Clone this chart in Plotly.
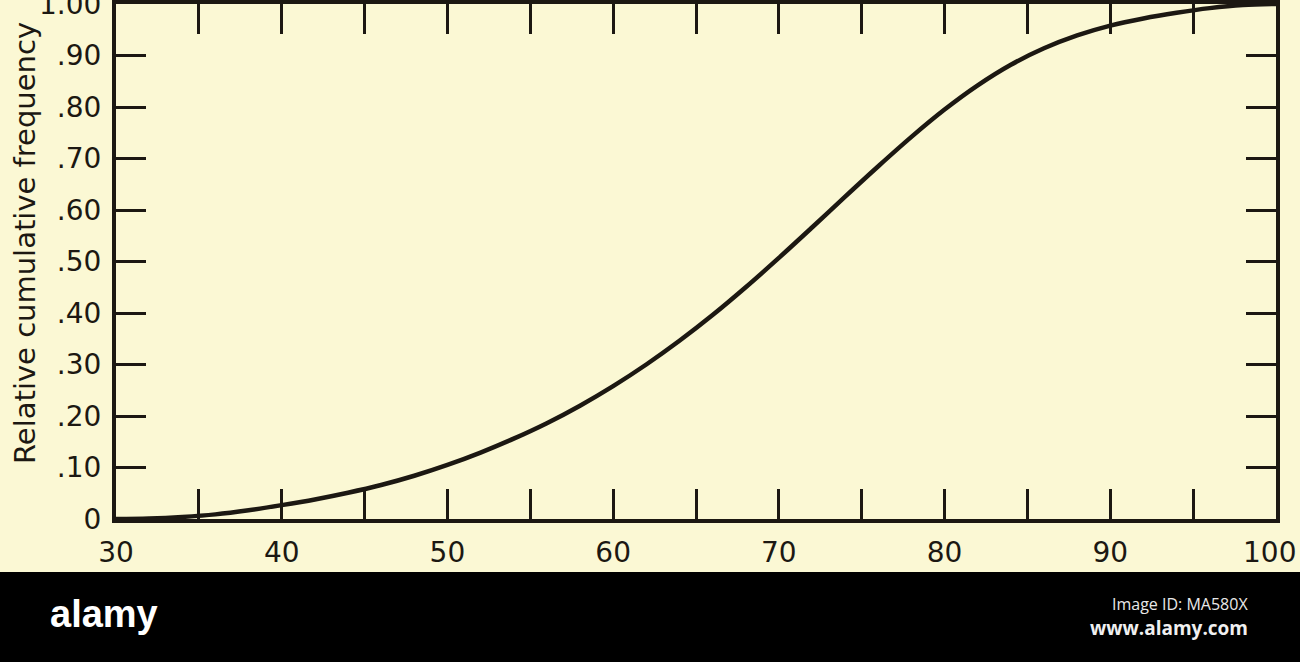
import plotly.graph_objects as go

# Data (relative cumulative frequency curve)
score = [30, 32, 34, 36, 38, 40, 42, 44, 46, 48, 50, 52, 54, 56, 58, 60, 62, 64,
         66, 68, 70, 72, 74, 76, 78, 80, 82, 84, 86, 88, 90, 92, 94, 96, 98, 100]
cum_freq = [0.0, 0.001, 0.004, 0.009, 0.017, 0.027, 0.038, 0.051, 0.066, 0.084,
            0.105, 0.129, 0.156, 0.186, 0.220, 0.258, 0.300, 0.346, 0.396, 0.450,
            0.507, 0.566, 0.626, 0.685, 0.742, 0.795, 0.842, 0.882, 0.914, 0.939,
            0.958, 0.972, 0.983, 0.992, 0.998, 1.0]

x_tickvals = [30, 35, 40, 45, 50, 55, 60, 65, 70, 75, 80, 85, 90, 95, 100]
x_ticktext = ["30", "", "40", "", "50", "", "60", "", "70", "", "80", "", "90", "", "100"]
y_tickvals = [0, 0.1, 0.2, 0.3, 0.4, 0.5, 0.6, 0.7, 0.8, 0.9, 1.0]
y_ticktext = ["0", ".10", ".20", ".30", ".40", ".50", ".60", ".70", ".80", ".90", "1.00"]

y_title = "Relative cumulative frequency"

INK = "#1c1812"
CREAM = "#fbf8d4"
W, H = 1300, 662
L, R, T, B = 116, 24, 4, 143

fig = go.Figure()
fig.add_trace(go.Scatter(
    x=score, y=cum_freq, mode="lines",
    line=dict(color=INK, width=4.5, shape="spline", smoothing=1.0),
    showlegend=False, hoverinfo="skip",
))

axis_common = dict(
    showline=True, linewidth=4, linecolor=INK, mirror="allticks",
    ticks="inside", ticklen=30, tickwidth=2.5, tickcolor=INK,
    showgrid=False, zeroline=False, automargin=False,
    ticklabeloverflow="allow",
)

# last x label ("100") sits at the right edge; drawn as an annotation nudged inward
x_ticktext_axis = x_ticktext[:-1] + [""]

fig.update_xaxes(
    range=[30, 100], tickmode="array", tickvals=x_tickvals, ticktext=x_ticktext_axis,
    tickfont=dict(family="DejaVu Sans", size=28, color=INK),
    ticklabelstandoff=5, **axis_common,
)
fig.update_yaxes(
    range=[0, 1], tickmode="array", tickvals=y_tickvals, ticktext=y_ticktext,
    tickfont=dict(family="DejaVu Sans", size=28, color=INK),
    ticklabelstandoff=5, **axis_common,
)

pw = W - L - R
ph = H - T - B

def px_x(p):
    return (p - L) / pw

def px_y(p):
    return (H - B - p) / ph

fig.add_annotation(
    text=x_ticktext[-1], showarrow=False, xref="paper", yref="paper",
    x=px_x(1298), y=px_y(552), xanchor="right", yanchor="middle",
    font=dict(family="DejaVu Sans", size=28, color=INK),
)

fig.add_annotation(
    text=y_title, textangle=-90, showarrow=False,
    xref="paper", yref="paper", x=px_x(25), y=px_y(243),
    xanchor="center", yanchor="middle",
    font=dict(family="DejaVu Sans", size=29, color=INK),
)

# bottom black banner
fig.add_shape(type="rect", xref="paper", yref="paper",
              x0=px_x(-5), x1=px_x(W + 5), y0=px_y(572), y1=px_y(H + 5),
              fillcolor="#000000", line=dict(width=0), layer="above")
fig.add_annotation(
    text="<b>alamy</b>", showarrow=False, xref="paper", yref="paper",
    x=px_x(48), y=px_y(614), xanchor="left", yanchor="middle",
    font=dict(family="Liberation Sans Narrow, Liberation Sans", size=38, color="#ffffff"),
)
fig.add_annotation(
    text="Image ID: MA580X", showarrow=False, xref="paper", yref="paper",
    x=px_x(1250), y=px_y(604), xanchor="right", yanchor="middle",
    font=dict(family="Open Sans", size=16, color="#e8e8e8"),
)
fig.add_annotation(
    text="<b>www.alamy.com</b>", showarrow=False, xref="paper", yref="paper",
    x=px_x(1250), y=px_y(628), xanchor="right", yanchor="middle",
    font=dict(family="Open Sans", size=19, color="#f0f0f0"),
)

fig.update_layout(
    width=W, height=H,
    margin=dict(l=L, r=R, t=T, b=B, pad=0),
    paper_bgcolor=CREAM, plot_bgcolor=CREAM,
)

fig.write_html(
    "out.html",
    config={"displayModeBar": False},
    post_script="document.body.style.margin='0';document.body.style.overflow='hidden';",
)
